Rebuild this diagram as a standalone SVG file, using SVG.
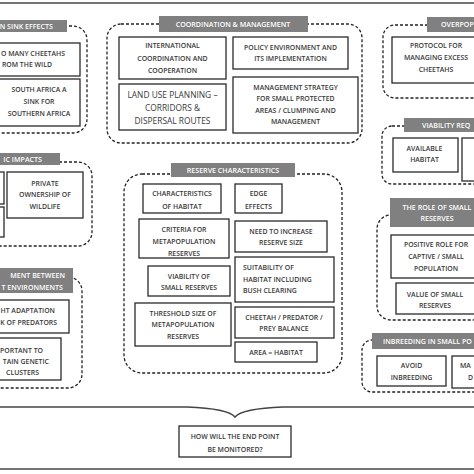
<svg xmlns="http://www.w3.org/2000/svg" width="474" height="474" viewBox="0 0 474 474">
<style>
text{font-family:"Open Sans","Liberation Sans",sans-serif;font-weight:600;font-size:6.9px;fill:#383838}
.c{text-anchor:middle}
.e{text-anchor:end}
.h{fill:#fff;font-size:7.1px}
.big{font-size:8.4px;font-weight:500}
.box{fill:#fff;stroke:#2a2a2a;stroke-width:1.3}
.hdr{fill:#808080;stroke:none}
.grp{fill:none;stroke:#222;stroke-width:1.3;stroke-dasharray:3 2}
.rule{fill:none;stroke:#444;stroke-width:1.5}
</style>
<rect width="474" height="474" fill="#fff"/>
<g id="connectors">
<path class="rule" d="M0,3 H474"/>
<path class="rule" d="M0,407 H187 C215,408 230,411 235,417 C240,411 255,408 283,407 H474"/>
<path class="rule" d="M0,469 H474"/>
</g>
<g id="g-sink">
<rect class="grp" x="-20" y="26" width="107" height="107" rx="14"/>
<rect class="hdr" x="-2" y="20" width="69" height="12"/>
<text class="h e" x="53" y="28.5">N SINK EFFECTS</text>
<g id="n-too-many"><rect class="box" x="-2" y="43" width="82" height="33"/>
<text class="e" x="65" y="55.5">O MANY CHEETAHS</text><text class="e" x="52" y="66.5">ROM THE WILD</text></g>
<g id="n-sink"><rect class="box" x="-2" y="79" width="82" height="47"/>
<text class="c" x="39" y="91.5">SOUTH AFRICA A</text><text class="c" x="39" y="103.5">SINK FOR</text><text class="c" x="39" y="115.5">SOUTHERN AFRICA</text></g>
</g>
<g id="g-coord">
<rect class="grp" x="107" y="24" width="255" height="119" rx="14"/>
<rect class="hdr" x="159" y="16" width="149" height="16"/>
<text class="h c" x="233" y="26.5">COORDINATION &amp; MANAGEMENT</text>
<g id="n-intl"><rect class="box" x="119" y="37" width="107" height="42"/>
<text class="c" x="172.5" y="47.5">INTERNATIONAL</text><text class="c" x="172.5" y="60.5">COORDINATION AND</text><text class="c" x="172.5" y="73">COOPERATION</text></g>
<g id="n-policy"><rect class="box" x="233" y="37" width="115" height="32"/>
<text class="c" x="290.5" y="49.5">POLICY ENVIRONMENT AND</text><text class="c" x="290.5" y="60.5">ITS IMPLEMENTATION</text></g>
<g id="n-land"><rect class="box" x="119" y="84" width="107" height="46"/>
<text class="c big" x="172.5" y="98">LAND USE PLANNING –</text><text class="c big" x="172.5" y="110.5">CORRIDORS &amp;</text><text class="c big" x="172.5" y="124">DISPERSAL ROUTES</text></g>
<g id="n-mgmt"><rect class="box" x="233" y="77" width="125" height="56"/>
<text class="c" x="295.5" y="89.5">MANAGEMENT STRATEGY</text><text class="c" x="295.5" y="101">FOR SMALL PROTECTED</text><text class="c" x="295.5" y="112.5">AREAS / CLUMPING AND</text><text class="c" x="295.5" y="123.5">MANAGEMENT</text></g>
</g>
<g id="g-overpop">
<rect class="grp" x="383" y="25" width="110" height="73" rx="12"/>
<rect class="hdr" x="427" y="17" width="50" height="15"/>
<text class="h" x="441" y="27">OVERPOP</text>
<g id="n-protocol"><rect class="box" x="392" y="37" width="90" height="46"/>
<text class="c" x="436" y="47.5">PROTOCOL FOR</text><text class="c" x="436" y="59.5">MANAGING EXCESS</text><text class="c" x="436" y="71.5">CHEETAHS</text></g>
</g>
<g id="g-viability">
<rect class="grp" x="382" y="126" width="110" height="58" rx="10"/>
<rect class="hdr" x="404" y="118" width="73" height="14"/>
<text class="h" x="422" y="127.5">VIABILITY REQ</text>
<g id="n-available"><rect class="box" x="393" y="138" width="65" height="34"/>
<text class="c" x="424.5" y="150.5">AVAILABLE</text><text class="c" x="424.5" y="161.5">HABITAT</text></g>
<g id="n-via2"><rect class="box" x="462" y="138" width="20" height="43"/></g>
</g>
<g id="g-role">
<rect class="grp" x="377" y="215" width="110" height="105" rx="14"/>
<rect class="hdr" x="390" y="198" width="87" height="29"/>
<text class="h c" x="437" y="209.5">THE ROLE OF SMALL</text><text class="h c" x="437" y="220.5">RESERVES</text>
<g id="n-positive"><rect class="box" x="391" y="235" width="91" height="43"/>
<text class="c" x="436" y="246.5">POSITIVE ROLE FOR</text><text class="c" x="436" y="258.5">CAPTIVE / SMALL</text><text class="c" x="436" y="270.5">POPULATION</text></g>
<g id="n-value"><rect class="box" x="396" y="283" width="86" height="31"/>
<text class="c" x="435" y="296.5">VALUE OF SMALL</text><text class="c" x="435" y="307.5">RESERVES</text></g>
</g>
<g id="g-inbreeding">
<rect class="grp" x="362" y="340" width="130" height="52" rx="10"/>
<rect class="hdr" x="372" y="333" width="105" height="16"/>
<text class="h" x="383" y="343.5">INBREEDING IN SMALL PO</text>
<g id="n-avoid"><rect class="box" x="377" y="356" width="69" height="30"/>
<text class="c" x="411.5" y="367.5">AVOID</text><text class="c" x="411.5" y="379.5">INBREEDING</text></g>
<g id="n-ma"><rect class="box" x="452" y="356" width="30" height="32"/>
<text x="460" y="367.5">MA</text><text x="468" y="379.5">D</text></g>
</g>
<g id="g-impacts">
<rect class="grp" x="-20" y="162" width="112" height="84" rx="14"/>
<rect class="hdr" x="-2" y="153" width="62" height="12"/>
<text class="h e" x="42" y="161.5">IC IMPACTS</text>
<g id="n-imp1"><rect class="box" x="-10" y="172" width="14" height="32"/></g>
<g id="n-imp2"><rect class="box" x="-10" y="207" width="14" height="30"/></g>
<g id="n-private"><rect class="box" x="7" y="172" width="76" height="46"/>
<text class="c" x="45" y="185.5">PRIVATE</text><text class="c" x="45" y="196.5">OWNERSHIP OF</text><text class="c" x="45" y="208.5">WILDLIFE</text></g>
</g>
<g id="g-environments">
<rect class="grp" x="-20" y="277" width="102" height="111" rx="14"/>
<rect class="hdr" x="-2" y="268" width="75" height="25"/>
<text class="h e" x="65" y="277.5">MENT BETWEEN</text><text class="h e" x="63" y="289.5">T ENVIRONMENTS</text>
<g id="n-adapt"><rect class="box" x="-2" y="300" width="71" height="33"/>
<text class="e" x="55" y="312.5">HT ADAPTATION</text><text class="e" x="57" y="324.5">K OF PREDATORS</text></g>
<g id="n-important"><rect class="box" x="-2" y="338" width="63" height="42"/>
<text class="e" x="43" y="352.5">PORTANT TO</text><text class="e" x="49" y="363.5">TAIN GENETIC</text><text class="c" x="22.5" y="374.5">CLUSTERS</text></g>
</g>
<g id="g-reserve">
<rect class="grp" x="124" y="174" width="218" height="199" rx="18"/>
<rect class="hdr" x="171" y="163" width="124" height="14"/>
<text class="h c" x="233" y="172.5">RESERVE CHARACTERISTICS</text>
<g id="n-charhab"><rect class="box" x="143" y="184" width="78" height="29"/>
<text class="c" x="182" y="195.5">CHARACTERISTICS</text><text class="c" x="182" y="208.5">OF HABITAT</text></g>
<g id="n-edge"><rect class="box" x="235" y="184" width="47" height="29"/>
<text class="c" x="258.5" y="195.5">EDGE</text><text class="c" x="258.5" y="208.5">EFFECTS</text></g>
<g id="n-criteria"><rect class="box" x="139" y="219" width="90" height="39"/>
<text class="c" x="184" y="231.5">CRITERIA FOR</text><text class="c" x="184" y="243.5">METAPOPULATION</text><text class="c" x="184" y="255.5">RESERVES</text></g>
<g id="n-need"><rect class="box" x="235" y="221" width="92" height="31"/>
<text class="c" x="281" y="233.5">NEED TO INCREASE</text><text class="c" x="281" y="244.5">RESERVE SIZE</text></g>
<g id="n-viab"><rect class="box" x="148" y="266" width="82" height="30"/>
<text class="c" x="189" y="278.5">VIABILITY OF</text><text class="c" x="189" y="289.5">SMALL RESERVES</text></g>
<g id="n-suit"><rect class="box" x="235" y="257" width="99" height="45"/>
<text x="243" y="269.5">SUITABILITY OF</text><text x="243" y="281.5">HABITAT INCLUDING</text><text x="243" y="292.5">BUSH CLEARING</text></g>
<g id="n-threshold"><rect class="box" x="135" y="303" width="96" height="43"/>
<text class="c" x="183" y="315.5">THRESHOLD SIZE OF</text><text class="c" x="183" y="326.5">METAPOPULATION</text><text class="c" x="183" y="338.5">RESERVES</text></g>
<g id="n-balance"><rect class="box" x="235" y="307" width="99" height="31"/>
<text class="c" x="284" y="319.5">CHEETAH / PREDATOR /</text><text class="c" x="284" y="330.5">PREY BALANCE</text></g>
<g id="n-area"><rect class="box" x="235" y="342" width="82" height="20"/>
<text class="c" x="276" y="354.5">AREA = HABITAT</text></g>
</g>
<g id="n-monitor"><rect class="box" x="179" y="426" width="112" height="31"/>
<text class="c" x="235" y="438.5">HOW WILL THE END POINT</text><text class="c" x="235" y="451.5">BE MONITORED?</text></g>
</svg>
